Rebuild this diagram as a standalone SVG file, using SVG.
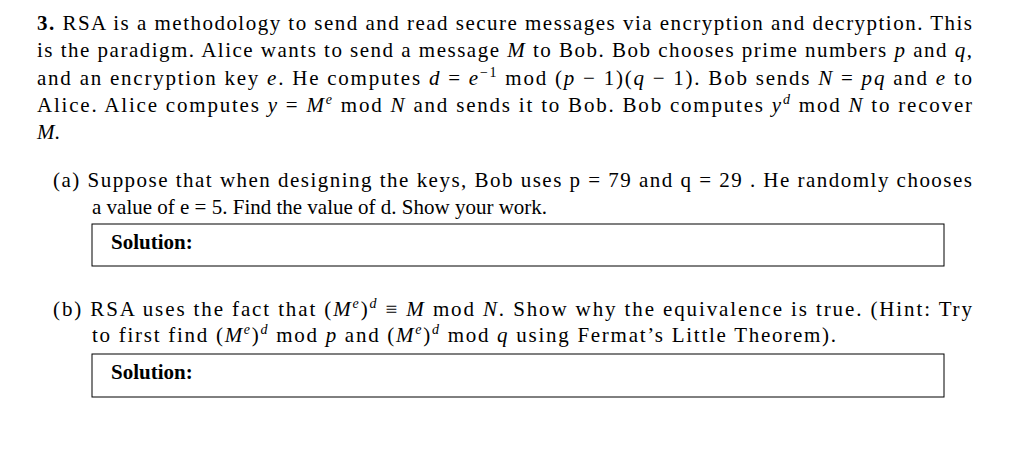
<svg xmlns="http://www.w3.org/2000/svg" width="1020" height="473" viewBox="0 0 1020 473">
<style>
text{font-family:"Liberation Serif","DejaVu Serif",serif;font-size:21px;fill:#000}
.i{font-style:italic}
.b{font-weight:bold}
.s{font-size:14px}
.box{fill:#fff;stroke:#000;stroke-width:1}
</style>
<rect width="1020" height="473" fill="#fff"/>
<g id="question">
<text x="37" y="30" textLength="935" lengthAdjust="spacing"><tspan class="b">3.</tspan>   RSA is a methodology to send and read secure messages via encryption and decryption. This</text>
<text x="37" y="57" textLength="935" lengthAdjust="spacing">is the paradigm. Alice wants to send a message <tspan class="i">M</tspan> to Bob. Bob chooses prime numbers <tspan class="i">p</tspan> and <tspan class="i">q</tspan>,</text>
<text x="37" y="85" textLength="935" lengthAdjust="spacing">and an encryption key <tspan class="i">e</tspan>. He computes <tspan class="i">d</tspan> = <tspan class="i">e</tspan><tspan class="s" dy="-8">−1</tspan><tspan dy="8">  mod (</tspan><tspan class="i">p</tspan> − 1)(<tspan class="i">q</tspan> − 1). Bob sends <tspan class="i">N</tspan> = <tspan class="i">pq</tspan> and <tspan class="i">e</tspan> to</text>
<text x="37" y="112" textLength="935" lengthAdjust="spacing">Alice. Alice computes <tspan class="i">y</tspan> = <tspan class="i">M</tspan><tspan class="s i" dy="-8">e</tspan><tspan dy="8">  mod </tspan><tspan class="i">N</tspan> and sends it to Bob. Bob computes <tspan class="i">y</tspan><tspan class="s i" dy="-8">d</tspan><tspan dy="8">  mod </tspan><tspan class="i">N</tspan> to recover</text>
<text x="37" y="139"><tspan class="i">M</tspan>.</text>
</g>
<g id="part-a">
<text x="53" y="187" textLength="919" lengthAdjust="spacing">(a) Suppose that when designing the keys, Bob uses p = 79 and q = 29 . He randomly chooses</text>
<text x="92" y="214">a value of e = 5. Find the value of d. Show your work.</text>
<rect class="box" x="92" y="224" width="852" height="42"/>
<text class="b" x="111" y="249">Solution:</text>
</g>
<g id="part-b">
<text x="53" y="316" textLength="919" lengthAdjust="spacing">(b) RSA uses the fact that (<tspan class="i">M</tspan><tspan class="s i" dy="-8">e</tspan><tspan dy="8">)</tspan><tspan class="s i" dy="-8">d</tspan><tspan dy="8"> ≡ </tspan><tspan class="i">M</tspan>  mod <tspan class="i">N</tspan>. Show why the equivalence is true. (Hint: Try</text>
<text x="92" y="342" textLength="744" lengthAdjust="spacing">to first find (<tspan class="i">M</tspan><tspan class="s i" dy="-8">e</tspan><tspan dy="8">)</tspan><tspan class="s i" dy="-8">d</tspan><tspan dy="8">  mod </tspan><tspan class="i">p</tspan> and (<tspan class="i">M</tspan><tspan class="s i" dy="-8">e</tspan><tspan dy="8">)</tspan><tspan class="s i" dy="-8">d</tspan><tspan dy="8">  mod </tspan><tspan class="i">q</tspan> using Fermat’s Little Theorem).</text>
<rect class="box" x="92" y="354" width="852" height="43"/>
<text class="b" x="111" y="379">Solution:</text>
</g>
</svg>
